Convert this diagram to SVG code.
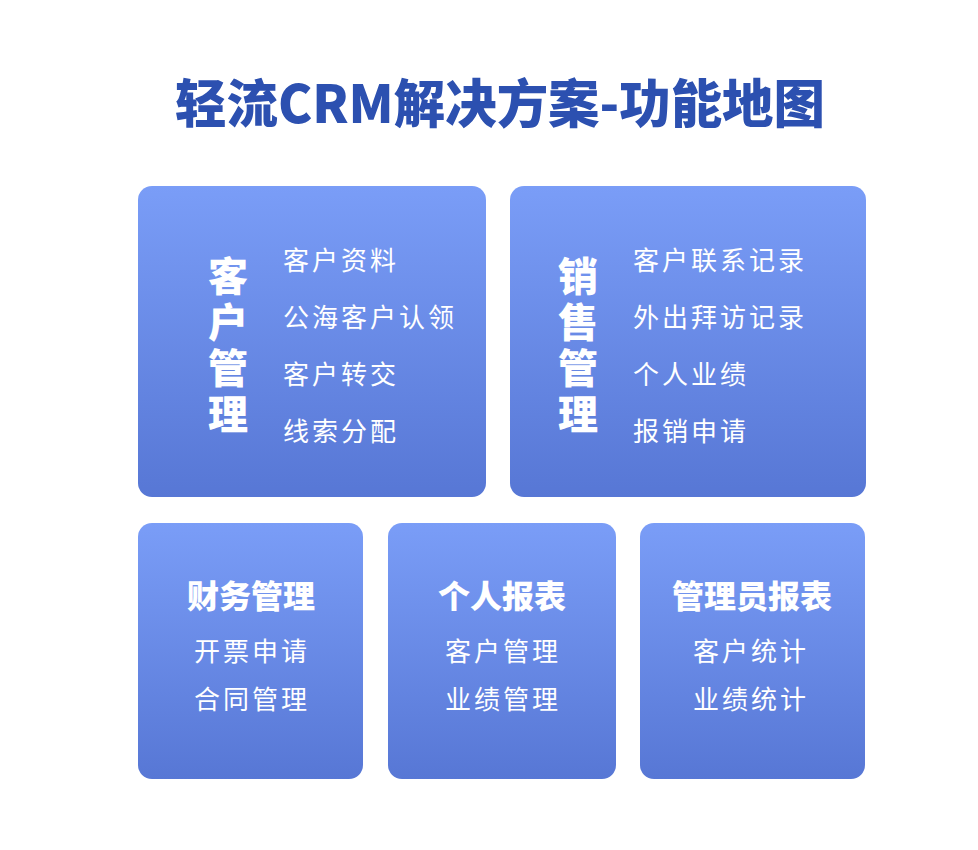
<svg xmlns="http://www.w3.org/2000/svg" width="978" height="850" viewBox="0 0 978 850">
<defs>
<linearGradient id="g" x1="0" y1="0" x2="0" y2="1">
<stop offset="0" stop-color="#7a9df7"/>
<stop offset="1" stop-color="#5777d5"/>
</linearGradient>
<style>
.box{fill:url(#g);}
.title{font-family:"Noto Sans CJK SC","Noto Sans",sans-serif;font-weight:900;font-size:52px;fill:#2c50b0;}
.big{font-family:"Noto Sans CJK SC",sans-serif;font-weight:900;font-size:40px;fill:#fff;writing-mode:vertical-rl;letter-spacing:6px;}
.head{font-family:"Noto Sans CJK SC",sans-serif;font-weight:900;font-size:32px;fill:#fff;text-anchor:middle;}
.item{font-family:"Noto Sans CJK SC",sans-serif;font-weight:400;font-size:26px;fill:#fff;letter-spacing:3px;}
.itemc{font-family:"Noto Sans CJK SC",sans-serif;font-weight:400;font-size:26px;fill:#fff;letter-spacing:3px;text-anchor:middle;}
</style>
</defs>
<rect width="978" height="850" fill="#fff"/>
<text class="title" x="500" y="123" text-anchor="middle" textLength="650" lengthAdjust="spacingAndGlyphs">轻流CRM解决方案-功能地图</text>

<g id="customer">
<rect class="box" x="138" y="186" width="348" height="311" rx="14"/>
<text class="big" x="228" y="256">客户管理</text>
<text class="item" x="283" y="270">客户资料</text>
<text class="item" x="283" y="327">公海客户认领</text>
<text class="item" x="283" y="384">客户转交</text>
<text class="item" x="283" y="441">线索分配</text>
</g>

<g id="sales">
<rect class="box" x="510" y="186" width="356" height="311" rx="14"/>
<text class="big" x="578" y="256">销售管理</text>
<text class="item" x="633" y="270">客户联系记录</text>
<text class="item" x="633" y="327">外出拜访记录</text>
<text class="item" x="633" y="384">个人业绩</text>
<text class="item" x="633" y="441">报销申请</text>
</g>

<g id="finance">
<rect class="box" x="138" y="523" width="225" height="256" rx="14"/>
<text class="head" x="251" y="608">财务管理</text>
<text class="itemc" x="252" y="661">开票申请</text>
<text class="itemc" x="252" y="709">合同管理</text>
</g>

<g id="personal">
<rect class="box" x="388" y="523" width="228" height="256" rx="14"/>
<text class="head" x="502" y="608">个人报表</text>
<text class="itemc" x="503" y="661">客户管理</text>
<text class="itemc" x="503" y="709">业绩管理</text>
</g>

<g id="admin">
<rect class="box" x="640" y="523" width="225" height="256" rx="14"/>
<text class="head" x="752" y="608">管理员报表</text>
<text class="itemc" x="751" y="661">客户统计</text>
<text class="itemc" x="751" y="709">业绩统计</text>
</g>

<g id="connectors"/>
</svg>
